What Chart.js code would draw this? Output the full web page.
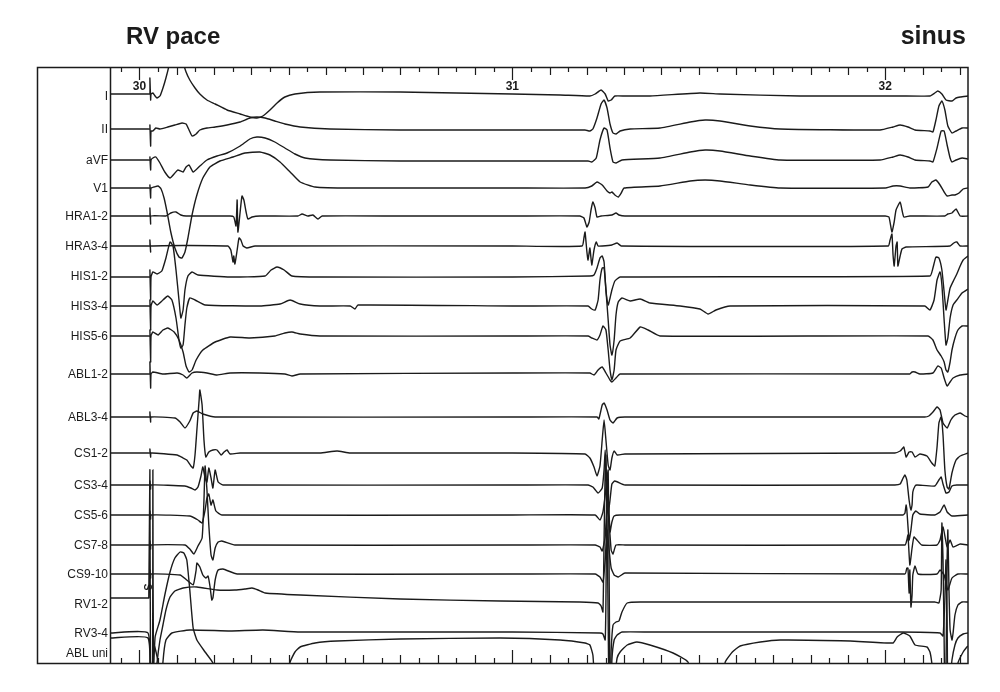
<!DOCTYPE html>
<html>
<head>
<meta charset="utf-8">
<style>
  body { margin: 0; background: #fff; }
</style>
</head>
<body>
<canvas id="egm" width="1000" height="692"></canvas>
<script src="https://cdn.jsdelivr.net/npm/chart.js"></script>
<script>
// channel names, top to bottom
const channelNames = ['I', 'II', 'aVF', 'V1', 'HRA1-2', 'HRA3-4', 'HIS1-2', 'HIS3-4', 'HIS5-6',
  'ABL1-2', 'ABL3-4', 'CS1-2', 'CS3-4', 'CS5-6', 'CS7-8', 'CS9-10', 'RV1-2', 'RV3-4', 'ABL uni'];
const secondMarks = [30, 31, 32];
const phaseLabels = ['RV pace', 'sinus'];

// each trace: [time (s), deflection (up = positive)]
const leadI = [[29.921,2],[30.023,2],[30.028,2],[30.028,18],[30.030,-4],[30.031,2],[30.036,3],[30.042,0],[30.047,-2],[30.055,0],[30.063,8],[30.071,18],[30.079,30],[30.087,46],[30.098,56],[30.109,48],[30.117,34],[30.125,24],[30.135,16],[30.149,8],[30.162,2],[30.181,-4],[30.203,-8],[30.235,-14],[30.270,-18],[30.296,-21],[30.315,-22],[30.331,-20],[30.350,-14],[30.369,-7],[30.390,-1],[30.417,2],[30.484,4],[30.699,4],[31.000,2],[31.128,1],[31.208,0],[31.222,2],[31.238,6],[31.249,2],[31.257,-5],[31.265,-4],[31.275,0],[31.302,0],[31.369,0],[31.503,3],[31.557,2],[31.772,0],[32.040,0],[32.120,0],[32.133,3],[32.141,5],[32.152,2],[32.163,-4],[32.179,-5],[32.190,-2],[32.201,-1],[32.222,0]];
const leadII = [[29.921,0],[30.023,0],[30.028,0],[30.028,4],[30.030,-17],[30.031,-2],[30.036,-2],[30.044,1],[30.055,0],[30.076,2],[30.095,4],[30.114,6],[30.125,5],[30.133,-1],[30.141,-7],[30.152,-5],[30.162,-1],[30.181,1],[30.203,2],[30.235,4],[30.270,7],[30.296,11],[30.315,12],[30.337,11],[30.363,8],[30.390,5],[30.431,2],[30.511,0],[30.699,-1],[31.000,-1],[31.195,-1],[31.208,-2],[31.216,0],[31.227,11],[31.238,25],[31.246,29],[31.254,21],[31.262,5],[31.270,-4],[31.278,-5],[31.289,-2],[31.316,0],[31.396,1],[31.477,7],[31.517,9],[31.557,8],[31.638,3],[31.718,0],[31.986,-1],[32.021,2],[32.040,4],[32.061,2],[32.080,-1],[32.120,-2],[32.128,-3],[32.136,9],[32.144,23],[32.152,28],[32.160,19],[32.168,3],[32.179,-4],[32.190,-2],[32.206,1],[32.222,1]];
const leadAVF = [[29.921,0],[30.023,0],[30.028,0],[30.028,3],[30.030,-10],[30.031,0],[30.036,2],[30.044,3],[30.055,-3],[30.068,-12],[30.082,-18],[30.095,-13],[30.103,-10],[30.117,-12],[30.125,-7],[30.133,-5],[30.144,-12],[30.162,-6],[30.181,0],[30.208,4],[30.235,7],[30.270,14],[30.296,21],[30.315,23],[30.337,22],[30.363,18],[30.390,12],[30.417,6],[30.444,2],[30.511,0],[30.699,-1],[31.000,-1],[31.203,-1],[31.213,-2],[31.225,2],[31.235,20],[31.246,32],[31.254,30],[31.262,12],[31.270,-2],[31.278,-3],[31.294,0],[31.396,2],[31.477,8],[31.517,10],[31.557,9],[31.638,4],[31.718,0],[31.986,0],[32.021,3],[32.040,5],[32.061,3],[32.080,0],[32.120,-1],[32.128,-2],[32.139,12],[32.150,29],[32.158,29],[32.166,15],[32.174,2],[32.179,-2],[32.190,0],[32.206,2],[32.222,1]];
const leadV1 = [[29.921,0],[30.023,0],[30.028,0],[30.028,3],[30.030,-10],[30.031,0],[30.039,1],[30.050,2],[30.058,-1],[30.066,-10],[30.074,-24],[30.084,-44],[30.095,-60],[30.106,-69],[30.114,-70],[30.122,-64],[30.130,-50],[30.141,-27],[30.154,-7],[30.170,10],[30.189,21],[30.216,27],[30.251,31],[30.283,35],[30.323,36],[30.350,33],[30.377,26],[30.404,16],[30.431,6],[30.471,1],[30.565,0],[31.000,0],[31.195,0],[31.213,2],[31.227,6],[31.241,3],[31.254,-3],[31.262,-5],[31.267,-4],[31.275,-7],[31.284,-9],[31.292,-5],[31.300,0],[31.396,2],[31.477,7],[31.517,8],[31.557,7],[31.638,3],[31.718,0],[32.000,0],[32.021,2],[32.040,2],[32.066,0],[32.115,1],[32.125,6],[32.136,8],[32.147,3],[32.158,-4],[32.166,-8],[32.179,-7],[32.187,-7],[32.198,-5],[32.209,-1],[32.222,0]];
const hra12 = [[29.921,0],[30.023,0],[30.028,0],[30.028,8],[30.030,-8],[30.031,0],[30.071,0],[30.084,3],[30.098,4],[30.111,1],[30.125,0],[30.243,0],[30.253,-1],[30.259,-10],[30.262,16],[30.264,-16],[30.270,4],[30.275,20],[30.280,16],[30.286,4],[30.291,-3],[30.302,-1],[30.323,0],[30.425,0],[30.436,2],[30.452,0],[30.465,1],[30.479,-3],[30.490,0],[30.699,0],[31.000,0],[31.181,0],[31.192,-2],[31.200,-11],[31.206,-6],[31.211,6],[31.216,14],[31.222,8],[31.227,-1],[31.238,0],[31.267,1],[31.278,3],[31.286,1],[31.302,0],[32.000,0],[32.010,-1],[32.018,-16],[32.024,-6],[32.029,6],[32.040,14],[32.045,6],[32.050,-1],[32.066,0],[32.160,0],[32.168,2],[32.179,3],[32.190,7],[32.201,0],[32.222,0]];
const hra34 = [[29.921,0],[30.023,0],[30.028,0],[30.028,6],[30.030,-6],[30.031,0],[30.237,0],[30.245,-4],[30.251,-16],[30.253,-10],[30.256,-18],[30.262,-4],[30.267,8],[30.272,6],[30.278,0],[30.288,-2],[30.310,0],[31.000,0],[31.187,0],[31.192,8],[31.195,14],[31.200,-6],[31.203,-14],[31.208,-2],[31.213,-19],[31.219,-4],[31.225,4],[31.230,0],[31.241,0],[31.267,1],[31.281,3],[31.292,0],[32.008,0],[32.013,6],[32.018,12],[32.021,-9],[32.024,-20],[32.029,0],[32.032,4],[32.034,-20],[32.040,-10],[32.045,-3],[32.056,-1],[32.174,0],[32.184,3],[32.192,4],[32.201,0],[32.222,0]];
const his12 = [[29.921,-1],[30.023,-1],[30.028,-1],[30.028,6],[30.030,-24],[30.031,-1],[30.036,4],[30.047,2],[30.060,5],[30.071,18],[30.082,34],[30.090,30],[30.098,6],[30.106,-24],[30.111,-42],[30.117,-34],[30.122,-14],[30.130,0],[30.141,4],[30.157,1],[30.243,-1],[30.337,0],[30.353,6],[30.369,9],[30.388,6],[30.409,0],[30.484,-1],[31.000,-1],[31.208,0],[31.219,1],[31.227,8],[31.235,18],[31.241,20],[31.246,14],[31.251,-14],[31.257,-29],[31.262,-22],[31.267,-14],[31.275,-5],[31.289,-1],[32.120,0],[32.128,8],[32.136,19],[32.144,18],[32.152,6],[32.158,-16],[32.163,-34],[32.168,-24],[32.174,-12],[32.184,-4],[32.192,2],[32.201,10],[32.209,16],[32.222,20]];
const his34 = [[29.921,0],[30.023,0],[30.028,0],[30.028,6],[30.030,-24],[30.031,0],[30.036,5],[30.047,1],[30.063,6],[30.076,10],[30.087,6],[30.098,-12],[30.106,-34],[30.111,-42],[30.117,-39],[30.122,-19],[30.127,-2],[30.135,8],[30.149,6],[30.176,1],[30.323,0],[30.377,2],[30.404,6],[30.431,2],[30.484,0],[30.565,0],[30.578,-3],[30.586,1],[31.000,0],[31.203,0],[31.213,-3],[31.222,-4],[31.230,6],[31.235,26],[31.241,38],[31.246,38],[31.251,16],[31.257,-14],[31.262,-39],[31.267,-49],[31.273,-34],[31.278,-9],[31.284,4],[31.294,8],[31.316,5],[31.343,7],[31.369,3],[31.450,0],[31.503,-3],[31.525,-8],[31.546,-4],[31.584,0],[32.106,0],[32.120,-4],[32.131,6],[32.139,26],[32.147,34],[32.152,21],[32.158,-14],[32.163,-39],[32.168,-32],[32.174,-12],[32.182,1],[32.192,6],[32.206,13],[32.222,17]];
const his56 = [[29.921,0],[30.023,0],[30.028,0],[30.028,6],[30.030,-26],[30.031,0],[30.036,4],[30.050,1],[30.063,6],[30.076,8],[30.093,4],[30.106,-4],[30.117,-16],[30.125,-30],[30.133,-36],[30.141,-34],[30.152,-24],[30.170,-14],[30.203,-6],[30.243,-1],[30.296,-2],[30.363,0],[30.390,3],[30.409,4],[30.431,2],[30.484,0],[31.000,0],[31.203,0],[31.213,-2],[31.227,-4],[31.235,1],[31.243,10],[31.251,6],[31.257,-14],[31.262,-34],[31.267,-44],[31.273,-34],[31.278,-14],[31.289,-5],[31.316,-2],[31.343,9],[31.364,6],[31.396,0],[32.115,0],[32.128,-4],[32.139,-14],[32.150,-20],[32.158,-26],[32.163,-34],[32.168,-36],[32.174,-26],[32.179,-14],[32.187,-2],[32.195,6],[32.206,10],[32.222,10]];
const abl12 = [[29.921,0],[30.023,0],[30.028,0],[30.028,12],[30.030,-14],[30.031,0],[30.036,2],[30.063,0],[30.101,1],[30.117,-1],[30.127,-4],[30.141,1],[30.154,2],[30.181,1],[30.208,-1],[30.243,1],[30.323,1],[30.390,0],[30.409,-2],[30.431,0],[31.000,1],[31.208,1],[31.219,-1],[31.230,4],[31.241,7],[31.251,1],[31.262,-6],[31.267,-8],[31.278,-4],[31.289,0],[32.066,0],[32.072,2],[32.080,2],[32.093,0],[32.128,1],[32.141,8],[32.150,6],[32.158,-4],[32.166,-12],[32.174,-8],[32.182,-4],[32.201,-1],[32.222,0]];
const abl34 = [[29.921,0],[30.023,0],[30.028,0],[30.028,5],[30.030,-5],[30.031,0],[30.095,-1],[30.109,-5],[30.122,-11],[30.135,-4],[30.144,4],[30.154,6],[30.170,3],[30.203,0],[31.000,0],[31.227,0],[31.232,-2],[31.241,12],[31.246,14],[31.254,7],[31.262,-3],[31.270,-6],[31.281,-1],[31.302,0],[32.106,0],[32.117,1],[32.128,5],[32.139,10],[32.147,7],[32.155,-6],[32.166,-11],[32.176,-3],[32.187,2],[32.201,4],[32.214,1],[32.222,0]];
const cs12 = [[29.921,0],[30.023,0],[30.028,0],[30.028,4],[30.030,-4],[30.031,0],[30.101,-2],[30.117,-5],[30.127,-7],[30.138,-13],[30.144,-15],[30.149,-2],[30.154,23],[30.160,53],[30.162,63],[30.168,48],[30.173,13],[30.178,-4],[30.186,1],[30.197,3],[30.208,3],[30.219,-2],[30.227,1],[30.235,3],[30.243,-1],[30.270,0],[30.484,0],[30.530,2],[30.565,0],[31.000,0],[31.195,-1],[31.208,-5],[31.219,-14],[31.227,-23],[31.235,-13],[31.241,13],[31.246,33],[31.251,13],[31.257,-12],[31.262,-17],[31.267,-5],[31.273,2],[31.281,-2],[31.302,-1],[32.026,0],[32.040,2],[32.045,4],[32.050,6],[32.056,-4],[32.064,1],[32.072,1],[32.080,-4],[32.093,-1],[32.112,-3],[32.125,-10],[32.133,-13],[32.139,6],[32.144,30],[32.150,36],[32.155,18],[32.160,-17],[32.166,-34],[32.171,-36],[32.179,-20],[32.190,-7],[32.201,-3],[32.222,0]];
const cs34 = [[29.921,0],[30.023,0],[30.028,0],[30.028,4],[30.030,-4],[30.031,0],[30.122,-1],[30.138,-3],[30.149,-5],[30.157,-2],[30.165,9],[30.170,18],[30.176,7],[30.181,3],[30.186,17],[30.192,7],[30.197,-3],[30.203,15],[30.211,3],[30.224,0],[31.000,0],[31.203,0],[31.216,-2],[31.230,-8],[31.241,-3],[31.246,15],[31.249,35],[31.251,15],[31.257,-28],[31.262,-15],[31.267,1],[31.275,4],[31.302,0],[32.026,0],[32.040,1],[32.048,7],[32.053,10],[32.058,5],[32.064,-15],[32.069,-25],[32.072,-20],[32.074,-7],[32.080,-1],[32.085,0],[32.133,-1],[32.144,5],[32.150,8],[32.155,1],[32.163,-8],[32.171,-7],[32.179,-1],[32.192,0],[32.222,0]];
const cs56 = [[29.921,0],[30.023,0],[30.028,0],[30.028,4],[30.030,-4],[30.031,0],[30.135,-1],[30.157,-5],[30.168,-8],[30.176,5],[30.181,17],[30.186,21],[30.192,10],[30.197,15],[30.205,4],[30.221,0],[31.000,0],[31.222,0],[31.235,-5],[31.243,3],[31.249,20],[31.254,35],[31.259,5],[31.262,-17],[31.267,-7],[31.273,-1],[31.289,0],[32.048,0],[32.053,2],[32.056,10],[32.058,5],[32.064,-25],[32.069,-15],[32.074,0],[32.082,4],[32.093,1],[32.133,0],[32.147,3],[32.158,10],[32.166,3],[32.179,-1],[32.222,0]];
const cs78 = [[29.921,0],[30.023,0],[30.028,0],[30.028,4],[30.030,-4],[30.031,0],[30.122,0],[30.135,-4],[30.146,-9],[30.157,-1],[30.168,7],[30.173,45],[30.176,79],[30.181,55],[30.186,20],[30.192,-10],[30.197,-15],[30.203,-3],[30.211,3],[30.221,4],[30.256,0],[31.000,0],[31.222,0],[31.235,-2],[31.241,-6],[31.249,8],[31.254,40],[31.259,25],[31.265,-5],[31.270,-9],[31.278,0],[31.302,0],[32.053,0],[32.058,5],[32.061,10],[32.066,-20],[32.072,-3],[32.077,8],[32.085,5],[32.098,0],[32.139,0],[32.147,5],[32.155,18],[32.166,-2],[32.174,5],[32.182,-2],[32.201,1],[32.222,0]];
const cs910 = [[29.921,0],[30.023,0],[30.028,0],[30.028,4],[30.030,-4],[30.031,0],[30.109,-1],[30.127,-6],[30.144,-11],[30.152,4],[30.154,11],[30.162,7],[30.170,-1],[30.178,-4],[30.184,-2],[30.189,-12],[30.194,-26],[30.197,-24],[30.203,-6],[30.211,4],[30.224,5],[30.262,0],[31.000,0],[31.222,0],[31.235,-3],[31.243,-8],[31.249,14],[31.254,44],[31.259,26],[31.265,6],[31.273,-1],[31.284,-3],[31.302,1],[32.053,0],[32.058,6],[32.061,6],[32.064,-19],[32.066,4],[32.069,-33],[32.072,-21],[32.074,-1],[32.080,8],[32.088,0],[32.139,0],[32.147,4],[32.158,-1],[32.168,-16],[32.179,-4],[32.195,0],[32.222,0]];
const rv12 = [[29.921,6],[30.023,6],[30.025,6],[30.028,134],[30.030,-96],[30.035,-96],[30.036,134],[30.038,-96],[30.047,-59],[30.055,-36],[30.063,-21],[30.071,-6],[30.082,7],[30.095,13],[30.117,16],[30.154,17],[30.208,14],[30.256,14],[30.283,15],[30.302,16],[30.318,14],[30.337,11],[30.431,9],[30.699,5],[30.967,3],[31.181,2],[31.230,1],[31.238,-2],[31.243,-8],[31.246,64],[31.249,134],[31.251,149],[31.254,84],[31.257,-16],[31.259,-86],[31.262,-86],[31.265,-46],[31.270,-21],[31.278,-18],[31.286,-17],[31.294,-8],[31.308,1],[31.343,2],[32.040,2],[32.133,2],[32.144,1],[32.150,14],[32.152,81],[32.155,44],[32.158,-36],[32.160,-96],[32.163,-66],[32.166,44],[32.168,74],[32.171,14],[32.174,-26],[32.179,-36],[32.182,-29],[32.187,-11],[32.195,-1],[32.206,2],[32.222,2]];
const rv34 = [[29.921,0],[30.023,0],[30.028,-67],[30.039,-12],[30.050,-29],[30.058,-67],[30.063,-29],[30.071,-7],[30.087,0],[30.135,3],[30.243,2],[30.331,3],[30.431,1],[31.000,1],[31.235,0],[31.243,-1],[31.249,-7],[31.251,33],[31.254,153],[31.257,163],[31.259,93],[31.262,-67],[31.265,-67],[31.267,-27],[31.273,-7],[31.281,-2],[31.294,1],[31.369,1],[32.040,1],[32.147,0],[32.155,-3],[32.160,33],[32.163,73],[32.166,13],[32.168,-67],[32.174,-47],[32.179,-27],[32.187,-12],[32.195,-5],[32.209,-1],[32.222,0]];
const ablUni = [[29.921,15],[30.023,15],[30.028,-47],[30.034,-47],[30.042,16],[30.055,33],[30.068,58],[30.082,81],[30.095,95],[30.109,101],[30.119,100],[30.127,93],[30.135,63],[30.144,25],[30.154,13],[30.176,1],[30.197,-10],[30.211,-37],[30.390,-37],[30.404,-9],[30.417,1],[30.431,6],[30.471,10],[30.530,12],[30.699,14],[30.967,15],[31.128,13],[31.195,10],[31.208,8],[31.216,-2],[31.225,-37],[31.267,-37],[31.281,-5],[31.289,1],[31.308,8],[31.334,11],[31.369,8],[31.431,0],[31.471,-9],[31.485,-37],[31.557,-37],[31.571,-9],[31.590,1],[31.611,7],[31.665,11],[31.718,13],[31.906,12],[32.021,10],[32.032,16],[32.048,20],[32.066,17],[32.080,8],[32.112,6],[32.120,1],[32.125,-10],[32.133,-37],[32.187,-37],[32.195,-10],[32.209,1],[32.219,6],[32.222,7]];

const traces = [leadI, leadII, leadAVF, leadV1, hra12, hra34, his12, his34, his56,
  abl12, abl34, cs12, cs34, cs56, cs78, cs910, rv12, rv34, ablUni];

// layout: baseline of every channel row, in the y-scale units (px from top of page)
const rowY = [96, 129, 160, 188, 216, 246, 276, 306, 336, 374, 417, 453, 485, 515, 545, 574, 604, 633, 653];

const ink = '#1b1b1b';
const font = '"Liberation Sans", Arial, sans-serif';

const framePlugin = {
  id: 'frame',
  afterDatasetsDraw(chart) {
    const { ctx, chartArea: a, scales: { x, y } } = chart;
    ctx.save();
    ctx.strokeStyle = ink;
    ctx.lineWidth = 1.5;
    ctx.strokeRect(37.5, a.top + 0.5, a.right - 37.5, a.bottom - a.top);
    ctx.beginPath();
    ctx.moveTo(a.left + 0.5, a.top);
    ctx.lineTo(a.left + 0.5, a.bottom);
    ctx.stroke();

    // time ticks every 50 ms, top and bottom, pointing inward
    ctx.lineWidth = 1.2;
    for (let k = Math.ceil(x.min * 20); k <= Math.floor(x.max * 20); k++) {
      const px = Math.round(x.getPixelForValue(k / 20)) + 0.5;
      const len = k % 20 === 0 ? 13 : (k % 2 === 0 ? 8 : 5);
      ctx.beginPath();
      ctx.moveTo(px, a.top);
      ctx.lineTo(px, a.top + len);
      ctx.moveTo(px, a.bottom);
      ctx.lineTo(px, a.bottom - len);
      ctx.stroke();
    }

    ctx.fillStyle = ink;
    ctx.textAlign = 'center';
    ctx.textBaseline = 'middle';
    ctx.font = 'bold 12px ' + font;
    secondMarks.forEach(s => ctx.fillText(String(s), x.getPixelForValue(s), 87));

    // channel names
    ctx.font = '12px ' + font;
    ctx.textAlign = 'right';
    channelNames.forEach((n, i) => ctx.fillText(n, a.left - 2, y.getPixelForValue(rowY[i]) + 1));

    // stimulus marker
    ctx.save();
    ctx.font = 'bold 10px ' + font;
    ctx.translate(146.5, 587);
    ctx.rotate(Math.PI / 2);
    ctx.textAlign = 'center';
    ctx.fillText('S', 0, 0);
    ctx.restore();

    // phase titles
    ctx.font = 'bold 24px ' + font;
    ctx.textBaseline = 'alphabetic';
    ctx.textAlign = 'left';
    ctx.fillText(phaseLabels[0], 126, 44);
    ctx.font = 'bold 25px ' + font;
    ctx.textAlign = 'right';
    ctx.fillText(phaseLabels[1], 966, 44);
    ctx.restore();
  }
};

new Chart(document.getElementById('egm'), {
  type: 'line',
  data: {
    datasets: traces.map((pts, i) => ({
      label: channelNames[i],
      data: pts.map(([t, v]) => ({ x: t, y: rowY[i] - v })),
      borderColor: ink,
      borderWidth: 1.4,
      pointRadius: 0,
      tension: 0.15,
      fill: false,
      clip: 0
    }))
  },
  options: {
    responsive: false,
    animation: false,
    layout: { padding: { left: 110, right: 32, top: 67, bottom: 29 } },
    plugins: { legend: { display: false }, tooltip: { enabled: false } },
    scales: {
      x: { type: 'linear', min: 29.921, max: 32.222, display: false },
      y: { type: 'linear', min: 67, max: 663, reverse: true, display: false }
    }
  },
  plugins: [framePlugin]
});
</script>
</body>
</html>
